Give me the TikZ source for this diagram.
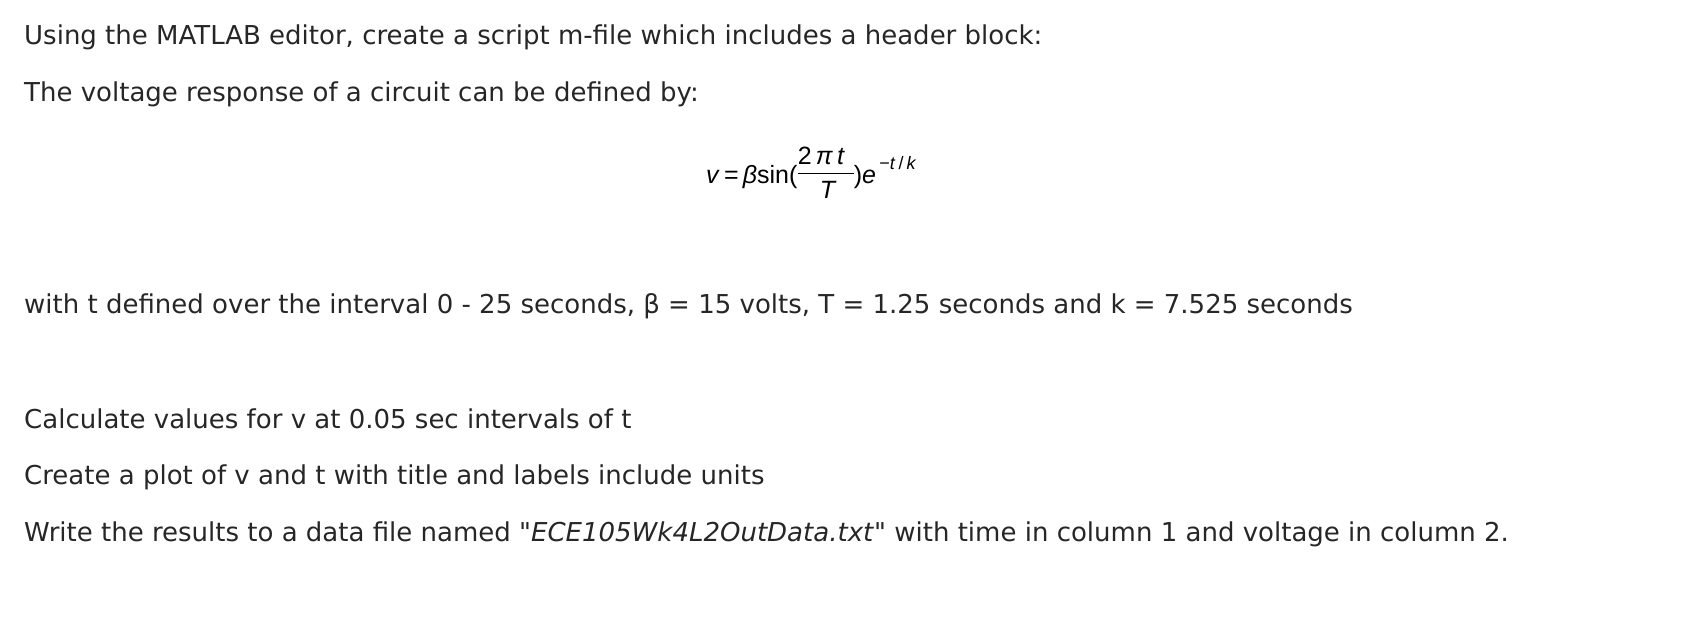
\documentclass[tikz,border=0pt]{standalone}
\usepackage{fontspec}
\setmainfont{DejaVu Sans}
\newfontfamily\plainq{DejaVu Sans}
\newfontfamily\eqfont{Liberation Sans}
\begin{document}
\begin{tikzpicture}[x=1pt, y=-1pt,
    para/.style={anchor=base west, inner sep=0pt, font=\fontsize{26}{30}\selectfont, text=black!85},
    eqpart/.style={anchor=base west, inner sep=0pt, font=\eqfont\fontsize{25}{30}\selectfont},
    eqsmall/.style={anchor=base west, inner sep=0pt, font=\eqfont\fontsize{18}{22}\selectfont}
]
  \useasboundingbox (0,0) rectangle (1704,634);
  \node[para] (l1) at (24,45) {Using the MATLAB editor, create a script m-file which includes a header block:};
  \node[para] (l2) at (24,101) {The voltage response of a circuit can be defined by:};

  % formula
  \node[eqpart] (lhs) at (706,183) {\textit{v}\,=\,\textit{β}sin(};
  \node[eqpart] (num) at ([yshift=19pt]lhs.base east) {2\,\textit{π}\,\textit{t}};
  \draw[line width=0.8pt] ([yshift=10pt]lhs.base east) -- ++(56,0) coordinate (fr);
  \node[eqpart] (den) at ([xshift=22pt,yshift=-15pt]lhs.base east) {\textit{T}};
  \node[eqpart] (rp) at ([yshift=-10pt]fr) {)\textit{e}};
  \node[eqsmall] (sup) at ([yshift=14pt]rp.base east) {\,−\textit{t}\,/\,\textit{k}};

  \node[para] (l3) at (24,313) {with t defined over the interval 0 - 25 seconds, β = 15 volts, T = 1.25 seconds and k = 7.525 seconds};
  \node[para] (l4) at (24,428) {Calculate values for v at 0.05 sec intervals of t};
  \node[para] (l5) at (24,484) {Create a plot of v and t with title and labels include units};
  \node[para] (l6) at (24,541) {Write the results to a data file named {\plainq "}\textit{ECE105Wk4L2OutData.txt}{\plainq "} with time in column 1 and voltage in column 2.};
\end{tikzpicture}
\end{document}
